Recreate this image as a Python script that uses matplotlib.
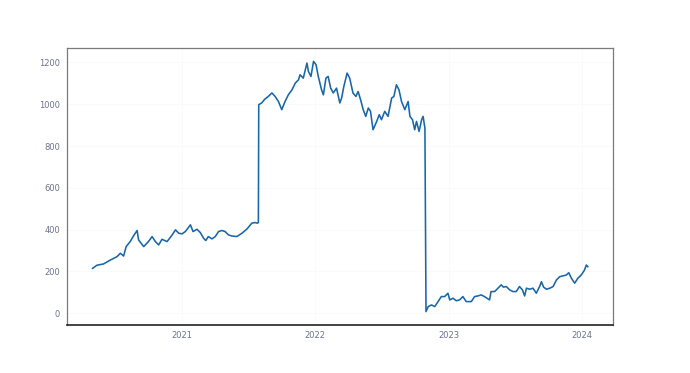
import matplotlib
matplotlib.use("Agg")
import matplotlib.pyplot as plt
import pandas as pd

dates = [
    "2020-05-01", "2020-05-13", "2020-05-31", "2020-06-19", "2020-07-07", "2020-07-16",
    "2020-07-25", "2020-08-01", "2020-08-12", "2020-08-21", "2020-08-31", "2020-09-04",
    "2020-09-18", "2020-10-01", "2020-10-11", "2020-10-20", "2020-10-29", "2020-11-07",
    "2020-11-21", "2020-12-05", "2020-12-14", "2020-12-23", "2021-01-01", "2021-01-10",
    "2021-01-24", "2021-01-31", "2021-02-11", "2021-02-20", "2021-03-01", "2021-03-07",
    "2021-03-14", "2021-03-24", "2021-04-02", "2021-04-11", "2021-04-20", "2021-04-29",
    "2021-05-08", "2021-05-17", "2021-05-31", "2021-06-14", "2021-06-27", "2021-07-11",
    "2021-07-20", "2021-07-26", "2021-07-29", "2021-07-30",
    "2021-08-07", "2021-08-16", "2021-08-25", "2021-09-04", "2021-09-13", "2021-09-22",
    "2021-10-01", "2021-10-10", "2021-10-19", "2021-10-29", "2021-11-07", "2021-11-16",
    "2021-11-20", "2021-11-29", "2021-12-09", "2021-12-13", "2021-12-20", "2021-12-27",
    "2022-01-03", "2022-01-09", "2022-01-18", "2022-01-23", "2022-01-30", "2022-02-05",
    "2022-02-12", "2022-02-19", "2022-02-28", "2022-03-09", "2022-03-14", "2022-03-20",
    "2022-03-29", "2022-04-05", "2022-04-14", "2022-04-22", "2022-04-28", "2022-05-05",
    "2022-05-12", "2022-05-19", "2022-05-26", "2022-06-01", "2022-06-08", "2022-06-18",
    "2022-06-25", "2022-07-01", "2022-07-10", "2022-07-19", "2022-07-29", "2022-08-04",
    "2022-08-11", "2022-08-18", "2022-08-25", "2022-09-03", "2022-09-12", "2022-09-17",
    "2022-09-24", "2022-09-30", "2022-10-05", "2022-10-12", "2022-10-19", "2022-10-23",
    "2022-10-28", "2022-10-31",
    "2022-11-06", "2022-11-15", "2022-11-24", "2022-12-03", "2022-12-12", "2022-12-21",
    "2022-12-30", "2023-01-04", "2023-01-13", "2023-01-22", "2023-01-31", "2023-02-09",
    "2023-02-18", "2023-03-04", "2023-03-13", "2023-03-22", "2023-03-31", "2023-04-09",
    "2023-04-23", "2023-04-27", "2023-05-07", "2023-05-16", "2023-05-25", "2023-05-31",
    "2023-06-08", "2023-06-17", "2023-06-26", "2023-07-05", "2023-07-14", "2023-07-22",
    "2023-07-28", "2023-08-02", "2023-08-11", "2023-08-20", "2023-08-29", "2023-09-07",
    "2023-09-12", "2023-09-18", "2023-09-26", "2023-10-05", "2023-10-14", "2023-10-23",
    "2023-11-01", "2023-11-10", "2023-11-19", "2023-11-26", "2023-12-03", "2023-12-12",
    "2023-12-21", "2023-12-30", "2024-01-08", "2024-01-13", "2024-01-17",
]

values = [
    215, 230, 236, 255, 271, 287,
    274, 319, 343, 370, 396, 351,
    319, 343, 367, 343, 327, 354,
    343, 375, 399, 383, 380, 391,
    423, 391, 402, 386, 359, 348,
    367, 356, 367, 391, 396, 391,
    375, 370, 367, 383, 402, 431,
    434, 431, 434, 998,
    1006, 1025, 1037, 1054, 1037, 1013,
    974, 1013, 1045, 1069, 1101, 1117,
    1141, 1125, 1197, 1157, 1133, 1205,
    1189, 1133, 1069, 1045, 1125, 1133,
    1077, 1054, 1077, 1006, 1030, 1085,
    1149, 1125, 1054, 1037, 1061, 1021,
    974, 942, 982, 966, 878, 918,
    950, 926, 966, 942, 1030, 1037,
    1093, 1069, 1013, 974, 1013, 942,
    926, 878, 918, 870, 926, 942,
    886, 8,
    32, 40, 32, 56, 80, 80,
    96, 64, 72, 60, 64, 80,
    56, 56, 80, 83, 88, 80,
    64, 104, 104, 120, 136, 125,
    128, 112, 104, 104, 128, 112,
    83, 120, 115, 120, 96, 128,
    151, 125, 115, 120, 128, 159,
    175, 179, 183, 194, 168, 144,
    168, 183, 207, 231, 223,
]

y_ticks = [0, 200, 400, 600, 800, 1000, 1200]
x_tick_labels = ["2021", "2022", "2023", "2024"]

x = pd.to_datetime(dates)

fig = plt.figure(figsize=(6.9, 3.73), dpi=100)
ax = fig.add_axes([67/690, 1 - 325/373, (613 - 67)/690, (325 - 48)/373])

ax.plot(x, values, color="#1867ab", linewidth=1.15, solid_joinstyle="round")

ax.set_xlim(pd.Timestamp("2020-02-21"), pd.Timestamp("2024-03-26"))
ax.set_ylim(-56, 1269)

ax.set_yticks(y_ticks)
ax.set_yticklabels([str(v) for v in y_ticks])
ax.set_xticks(pd.to_datetime([s + "-01-01" for s in x_tick_labels]))
ax.set_xticklabels(x_tick_labels)

ax.grid(True, color="#fafafa", linewidth=0.6)
ax.set_axisbelow(True)
ax.tick_params(axis="both", length=0, labelsize=6, labelcolor="#6b7390")
ax.tick_params(axis="y", pad=5)
ax.tick_params(axis="x", pad=4)

for side in ["top", "left", "right"]:
    ax.spines[side].set_color("#7a7a7a")
    ax.spines[side].set_linewidth(0.9)
ax.spines["bottom"].set_color("#222222")
ax.spines["bottom"].set_linewidth(1.2)

fig.savefig("out.png", dpi=100, facecolor="white")
